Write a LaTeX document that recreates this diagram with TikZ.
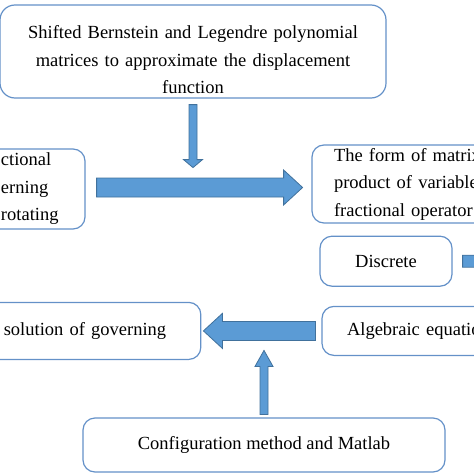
\documentclass[tikz,border=0pt]{standalone}
\usepackage{fontspec}
\setmainfont{Liberation Serif}
\usetikzlibrary{positioning}
\definecolor{boxblue}{RGB}{100,145,200}
\definecolor{arrowfill}{RGB}{91,155,213}
\definecolor{arrowline}{RGB}{65,113,156}
\tikzset{
  stepbox/.style   = {shape=rectangle, rounded corners=12pt,
                      draw=boxblue, line width=1.2pt, inner sep=0pt,
                      font=\fontsize{18.5}{27.5}\selectfont},
  bigbox/.style    = {stepbox, rounded corners=15pt, align=center},
  cutbox/.style    = {stepbox, align=left},
  arrowbody/.style = {fill=arrowfill, draw=arrowline, line width=0.8pt},
  pics/blockarrow/.style n args={4}{code={
    \draw[arrowbody] (0,-#2) -- (#1-#4,-#2) -- (#1-#4,-#3) -- (#1,0)
      -- (#1-#4,#3) -- (#1-#4,#2) -- (0,#2) -- cycle;
  }}
}
\begin{document}
\begin{tikzpicture}[x=1pt, y=-1pt]
  \useasboundingbox (0,0) rectangle (474,474);
  \clip (0,0) rectangle (474,474);
  % boxes
  \node [bigbox, text width=376pt, minimum width=386pt, minimum height=93pt]
    (approx) at (193,51.5)
    {\rule{0pt}{30pt}Shifted Bernstein and Legendre polynomial\\
     matrices to approximate the displacement\\ function};
  \node [cutbox, text width=60pt, minimum width=108pt, minimum height=80pt]
    (gov) at (31,189) {ctional\\erning\\rotating};
  \node [cutbox, text width=170pt, minimum width=214pt, minimum height=78pt]
    (matrix) at (419,184) {The form of matrix\\product of variable\\fractional operator};
  \node [stepbox, minimum width=132pt, minimum height=50pt]
    (discrete) [below right=12pt and 8pt of matrix.south west] {Discrete};
  \node [cutbox, text width=140pt, minimum width=190pt, minimum height=49pt]
    (algeb) [below right=19pt and 2pt of discrete.south west] {Algebraic equatio};
  \node [cutbox, text width=170pt, minimum width=224pt, minimum height=57pt]
    (solution) [left=120pt of algeb] {solution of governing};
  \node [stepbox, minimum width=362pt, minimum height=54pt]
    (config) at (264,445) {Configuration method and Matlab};
  % block arrows
  \pic [rotate=-90] at ([yshift=-6pt]approx.south) {blockarrow={63}{4}{9.5}{8}};
  \pic at ([xshift=11pt, yshift=1.5pt]gov.east) {blockarrow={206}{9.5}{17.5}{19}};
  \pic at ([xshift=10pt]discrete.east) {blockarrow={32}{6}{12}{10}};
  \pic [rotate=180] at ([xshift=-6pt]algeb.west) {blockarrow={112}{9.5}{17.5}{19}};
  \pic [rotate=90] at ([yshift=3pt]config.north) {blockarrow={64}{4}{9}{16}};
\end{tikzpicture}
\end{document}
